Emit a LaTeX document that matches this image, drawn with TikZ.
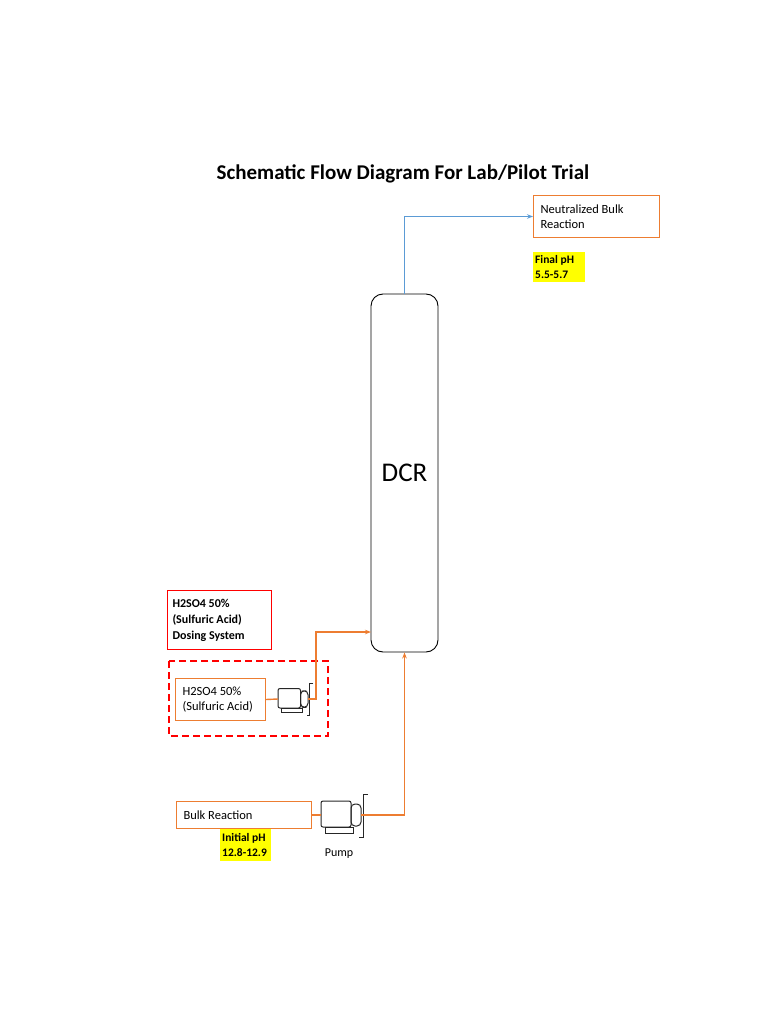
\documentclass[tikz,border=0pt]{standalone}
\usepackage{fontspec}
\setmainfont{Carlito}
\usetikzlibrary{positioning, arrows.meta, calc}
\definecolor{pipeor}{RGB}{237,125,49}
\definecolor{pipebl}{RGB}{91,155,213}
\definecolor{hiyel}{RGB}{255,255,0}
\tikzset{
  pump/.pic={
    \draw[line width=1pt, gray!30!black, rounded corners=2pt] (0,-14) rectangle (30,12);
    \draw[line width=1pt, gray!30!black] (4,12) rectangle (32,18);
    \draw[line width=1pt, gray!30!black, rounded corners=4pt] (30,-11) rectangle (40,11);
    \draw[line width=1pt, gray!30!black] (47,-21) -- (42,-21) -- (42,22) -- (38,22);
    \coordinate (-in) at (0,0);
    \coordinate (-out) at (40,0);
  }
}
\begin{document}
\begin{tikzpicture}[x=1pt, y=-1pt,
    box/.style={draw=pipeor, line width=1pt, align=flush left, font=\fontsize{12.5}{15}\selectfont, inner xsep=7pt, anchor=north west},
    hilite/.style={fill=hiyel, align=flush left, font=\bfseries\fontsize{11.5}{15}\selectfont, inner sep=2pt, anchor=north west},
    pipe/.style={draw=pipeor, line width=1.4pt, -{Stealth[length=6pt]}},
  ]
  \useasboundingbox (0,0) rectangle (768,1024);

  \node (title) at (403,174) {\bfseries\fontsize{21}{24}\selectfont Schematic Flow Diagram For Lab/Pilot Trial};

  % column
  \node (dcr) [draw, line width=0.9pt, rounded corners=12pt, minimum width=67pt, minimum height=358pt, font=\fontsize{27}{30}\selectfont] at (404.5,473) {DCR};

  \node (neutral) [box, text width=112pt, minimum height=42pt] at (533,195) {Neutralized Bulk\\Reaction};
  \node (finalph) [hilite, text width=48pt, minimum height=30pt] at (533,252) {Final pH\\5.5-5.7};

  % acid dosing system
  \node (acidlabel) [draw=red, line width=1pt, align=flush left, font=\bfseries\fontsize{12}{16}\selectfont, inner xsep=5pt, anchor=north west, text width=94pt, minimum height=59pt] at (167,590) {H2SO4 50\%\\(Sulfuric Acid)\\Dosing System};
  \draw[red, line width=1.6pt, dash pattern=on 7pt off 4pt] (169,661) rectangle (328,736);
  \node (acid) [box, text width=76pt, minimum height=42pt] at (175,678) {H2SO4 50\%\\(Sulfuric Acid)};
  \pic[scale=0.75] (sp) at (278,699) {pump};

  % bulk feed
  \node (bulk) [box, text width=121pt, minimum height=27pt, inner ysep=4pt] at (176,801) {Bulk Reaction};
  \node (initph) [hilite, text width=47pt, minimum height=32pt] at (220,829) {Initial pH\\12.8-12.9};
  \pic (bp) at (321,815) {pump};
  \node (pumplabel) [font=\fontsize{12}{14}\selectfont] at (339,854) {Pump};

  \coordinate (acidin) at (371,632);

  \draw[draw=pipebl, line width=1.4pt, -{Stealth[length=6pt]}] (dcr.north) |- (neutral.west);
  \draw[pipeor, line width=1.4pt] (acid.east) -- (sp-in);
  \draw[pipe] (sp-out) -- ++(8,0) |- (acidin);
  \draw[pipeor, line width=1.4pt] (bulk.east) -- (bp-in);
  \draw[pipe] (bp-out) -| (dcr.south);
\end{tikzpicture}
\end{document}
